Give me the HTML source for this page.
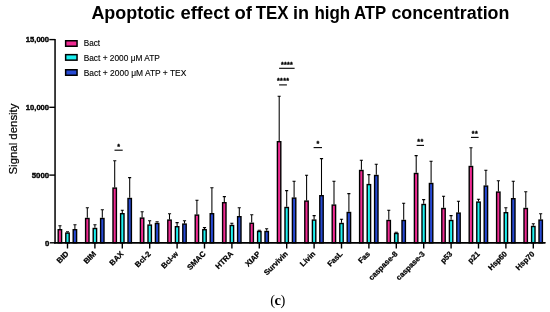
<!DOCTYPE html>
<html><head><meta charset="utf-8"><title>Apoptotic effect of TEX in high ATP concentration</title>
<style>html,body{margin:0;padding:0;background:#fff}body{width:550px;height:312px;overflow:hidden}svg{display:block}text{font-family:"Liberation Sans",sans-serif;fill:#000}.b{font-weight:bold}.s{font-family:"Liberation Serif",serif}</style></head><body>
<svg width="550" height="312" viewBox="0 0 550 312">
<rect width="550" height="312" fill="#fff"/>
<text class="b" y="19" font-size="17.6"><tspan x="91.4" textLength="83.6" lengthAdjust="spacingAndGlyphs">Apoptotic</tspan> <tspan x="180.4" textLength="49.2" lengthAdjust="spacingAndGlyphs">effect</tspan> <tspan x="234.4" textLength="17.4" lengthAdjust="spacingAndGlyphs">of</tspan> <tspan x="255.8" textLength="32.8" lengthAdjust="spacingAndGlyphs">TEX</tspan> <tspan x="293.0" textLength="16.0" lengthAdjust="spacingAndGlyphs">in</tspan> <tspan x="314.4" textLength="35.8" lengthAdjust="spacingAndGlyphs">high</tspan> <tspan x="354.0" textLength="32.0" lengthAdjust="spacingAndGlyphs">ATP</tspan> <tspan x="391.4" textLength="118.0" lengthAdjust="spacingAndGlyphs">concentration</tspan></text>
<text transform="translate(16.9,174.5) rotate(-90)" font-size="11" stroke="#000" stroke-width="0.2" textLength="71" lengthAdjust="spacingAndGlyphs">Signal density</text>
<g stroke="#000" stroke-width="1.5" fill="none">
<path d="M55.05 39.0V243.4"/>
<path d="M54.2 242.8H545.4"/>
</g>
<g stroke="#000" stroke-width="1.4" fill="none">
<path d="M49.3 39.6H55"/>
<path d="M49.3 107.3H55"/>
<path d="M49.3 175.1H55"/>
<path d="M49.8 242.8H55"/>
<path d="M67.5 242.8V248.5"/>
<path d="M94.9 242.8V248.5"/>
<path d="M122.3 242.8V248.5"/>
<path d="M149.7 242.8V248.5"/>
<path d="M177.1 242.8V248.5"/>
<path d="M204.5 242.8V248.5"/>
<path d="M231.9 242.8V248.5"/>
<path d="M259.3 242.8V248.5"/>
<path d="M286.7 242.8V248.5"/>
<path d="M314.1 242.8V248.5"/>
<path d="M341.5 242.8V248.5"/>
<path d="M368.9 242.8V248.5"/>
<path d="M396.3 242.8V248.5"/>
<path d="M423.7 242.8V248.5"/>
<path d="M451.1 242.8V248.5"/>
<path d="M478.5 242.8V248.5"/>
<path d="M505.9 242.8V248.5"/>
<path d="M533.3 242.8V248.5"/>
</g>
<text class="b" x="25.8" y="42.1" font-size="7.3" stroke="#000" stroke-width="0.35" textLength="23.3" lengthAdjust="spacingAndGlyphs">15,000</text>
<text class="b" x="25.8" y="109.8" font-size="7.3" stroke="#000" stroke-width="0.35" textLength="23.3" lengthAdjust="spacingAndGlyphs">10,000</text>
<text class="b" x="31.7" y="177.5" font-size="7.3" stroke="#000" stroke-width="0.35" textLength="17.4" lengthAdjust="spacingAndGlyphs">5000</text>
<text class="b" x="45.1" y="245.7" font-size="7.3" stroke="#000" stroke-width="0.35" textLength="4.3" lengthAdjust="spacingAndGlyphs">0</text>
<rect x="65.65" y="40.75" width="11.4" height="5.5" fill="#f02b93" stroke="#000" stroke-width="1.5"/>
<text x="83.7" y="46.4" font-size="8.8" stroke="#000" stroke-width="0.12" textLength="16.4" lengthAdjust="spacingAndGlyphs">Bact</text>
<rect x="65.65" y="54.65" width="11.4" height="5.5" fill="#1cf0f0" stroke="#000" stroke-width="1.5"/>
<text x="83.7" y="60.8" font-size="8.8" stroke="#000" stroke-width="0.12" textLength="76.1" lengthAdjust="spacingAndGlyphs">Bact + 2000 μM ATP</text>
<rect x="65.65" y="69.75" width="11.4" height="5.5" fill="#274ad4" stroke="#000" stroke-width="1.5"/>
<text x="83.7" y="75.9" font-size="8.8" stroke="#000" stroke-width="0.12" textLength="102.6" lengthAdjust="spacingAndGlyphs">Bact + 2000 μM ATP + TEX</text>
<g stroke="#000" stroke-width="1.4">
<path fill="none" stroke-width="1.05" d="M60.0 229.0V225.8M58.4 225.8H61.5"/>
<rect x="58.2" y="229.7" width="3.4" height="13.1" fill="#f02b93"/>
<path fill="none" stroke-width="1.05" d="M67.5 232.4V231.8M66.0 231.8H69.0"/>
<rect x="65.8" y="233.1" width="3.4" height="9.7" fill="#1cf0f0"/>
<path fill="none" stroke-width="1.05" d="M74.9 229.0V224.8M73.4 224.8H76.5"/>
<rect x="73.2" y="229.7" width="3.4" height="13.1" fill="#274ad4"/>
<path fill="none" stroke-width="1.05" d="M87.3 217.8V207.8M85.8 207.8H88.9"/>
<rect x="85.6" y="218.5" width="3.4" height="24.3" fill="#f02b93"/>
<path fill="none" stroke-width="1.05" d="M94.9 227.8V224.8M93.4 224.8H96.5"/>
<rect x="93.2" y="228.5" width="3.4" height="14.3" fill="#1cf0f0"/>
<path fill="none" stroke-width="1.05" d="M102.3 217.8V209.8M100.8 209.8H103.9"/>
<rect x="100.6" y="218.5" width="3.4" height="24.3" fill="#274ad4"/>
<path fill="none" stroke-width="1.05" d="M114.7 187.4V160.8M113.2 160.8H116.3"/>
<rect x="113.0" y="188.1" width="3.4" height="54.7" fill="#f02b93"/>
<path fill="none" stroke-width="1.05" d="M122.3 213.0V210.2M120.8 210.2H123.8"/>
<rect x="120.6" y="213.7" width="3.4" height="29.1" fill="#1cf0f0"/>
<path fill="none" stroke-width="1.05" d="M129.7 197.8V177.6M128.1 177.6H131.2"/>
<rect x="128.0" y="198.5" width="3.4" height="44.3" fill="#274ad4"/>
<path fill="none" stroke-width="1.05" d="M142.1 217.4V211.8M140.6 211.8H143.7"/>
<rect x="140.4" y="218.1" width="3.4" height="24.7" fill="#f02b93"/>
<path fill="none" stroke-width="1.05" d="M149.7 224.4V220.8M148.1 220.8H151.2"/>
<rect x="148.0" y="225.1" width="3.4" height="17.7" fill="#1cf0f0"/>
<path fill="none" stroke-width="1.05" d="M157.1 222.8V221.8M155.5 221.8H158.7"/>
<rect x="155.4" y="223.5" width="3.4" height="19.3" fill="#274ad4"/>
<path fill="none" stroke-width="1.05" d="M169.5 219.4V213.8M168.0 213.8H171.1"/>
<rect x="167.8" y="220.1" width="3.4" height="22.7" fill="#f02b93"/>
<path fill="none" stroke-width="1.05" d="M177.1 226.0V222.6M175.5 222.6H178.7"/>
<rect x="175.4" y="226.7" width="3.4" height="16.1" fill="#1cf0f0"/>
<path fill="none" stroke-width="1.05" d="M184.5 223.4V220.8M182.9 220.8H186.1"/>
<rect x="182.8" y="224.1" width="3.4" height="18.7" fill="#274ad4"/>
<path fill="none" stroke-width="1.05" d="M196.9 214.4V200.2M195.4 200.2H198.5"/>
<rect x="195.2" y="215.1" width="3.4" height="27.7" fill="#f02b93"/>
<path fill="none" stroke-width="1.05" d="M204.5 229.0V227.6M202.9 227.6H206.1"/>
<rect x="202.8" y="229.7" width="3.4" height="13.1" fill="#1cf0f0"/>
<path fill="none" stroke-width="1.05" d="M211.9 213.0V187.8M210.3 187.8H213.5"/>
<rect x="210.2" y="213.7" width="3.4" height="29.1" fill="#274ad4"/>
<path fill="none" stroke-width="1.05" d="M224.3 202.0V196.6M222.8 196.6H225.9"/>
<rect x="222.6" y="202.7" width="3.4" height="40.1" fill="#f02b93"/>
<path fill="none" stroke-width="1.05" d="M231.9 224.8V223.2M230.3 223.2H233.4"/>
<rect x="230.2" y="225.5" width="3.4" height="17.3" fill="#1cf0f0"/>
<path fill="none" stroke-width="1.05" d="M239.3 216.0V207.8M237.7 207.8H240.8"/>
<rect x="237.6" y="216.7" width="3.4" height="26.1" fill="#274ad4"/>
<path fill="none" stroke-width="1.05" d="M251.7 222.6V214.8M250.2 214.8H253.3"/>
<rect x="250.0" y="223.3" width="3.4" height="19.5" fill="#f02b93"/>
<path fill="none" stroke-width="1.05" d="M259.3 230.8V230.2M257.7 230.2H260.8"/>
<rect x="257.6" y="231.5" width="3.4" height="11.3" fill="#1cf0f0"/>
<path fill="none" stroke-width="1.05" d="M266.7 230.8V228.8M265.1 228.8H268.2"/>
<rect x="265.0" y="231.5" width="3.4" height="11.3" fill="#274ad4"/>
<path fill="none" stroke-width="1.05" d="M279.2 141.0V96.2M277.6 96.2H280.7"/>
<rect x="277.4" y="141.7" width="3.4" height="101.1" fill="#f02b93"/>
<path fill="none" stroke-width="1.05" d="M286.7 206.8V190.6M285.1 190.6H288.2"/>
<rect x="285.0" y="207.5" width="3.4" height="35.3" fill="#1cf0f0"/>
<path fill="none" stroke-width="1.05" d="M294.1 197.4V181.2M292.5 181.2H295.6"/>
<rect x="292.4" y="198.1" width="3.4" height="44.7" fill="#274ad4"/>
<path fill="none" stroke-width="1.05" d="M306.6 200.4V175.2M305.0 175.2H308.1"/>
<rect x="304.8" y="201.1" width="3.4" height="41.7" fill="#f02b93"/>
<path fill="none" stroke-width="1.05" d="M314.1 219.4V215.6M312.6 215.6H315.7"/>
<rect x="312.4" y="220.1" width="3.4" height="22.7" fill="#1cf0f0"/>
<path fill="none" stroke-width="1.05" d="M321.5 195.0V158.6M319.9 158.6H323.1"/>
<rect x="319.8" y="195.7" width="3.4" height="47.1" fill="#274ad4"/>
<path fill="none" stroke-width="1.05" d="M334.0 204.4V181.2M332.4 181.2H335.5"/>
<rect x="332.2" y="205.1" width="3.4" height="37.7" fill="#f02b93"/>
<path fill="none" stroke-width="1.05" d="M341.5 222.8V219.2M339.9 219.2H343.1"/>
<rect x="339.8" y="223.5" width="3.4" height="19.3" fill="#1cf0f0"/>
<path fill="none" stroke-width="1.05" d="M348.9 211.8V193.6M347.3 193.6H350.4"/>
<rect x="347.2" y="212.5" width="3.4" height="30.3" fill="#274ad4"/>
<path fill="none" stroke-width="1.05" d="M361.4 169.8V160.2M359.8 160.2H362.9"/>
<rect x="359.6" y="170.5" width="3.4" height="72.3" fill="#f02b93"/>
<path fill="none" stroke-width="1.05" d="M368.9 183.9V174.6M367.3 174.6H370.4"/>
<rect x="367.2" y="184.6" width="3.4" height="58.2" fill="#1cf0f0"/>
<path fill="none" stroke-width="1.05" d="M376.3 174.8V164.2M374.7 164.2H377.8"/>
<rect x="374.6" y="175.5" width="3.4" height="67.3" fill="#274ad4"/>
<path fill="none" stroke-width="1.05" d="M388.8 219.8V210.2M387.2 210.2H390.3"/>
<rect x="387.0" y="220.5" width="3.4" height="22.3" fill="#f02b93"/>
<path fill="none" stroke-width="1.05" d="M396.3 232.8V232.2M394.7 232.2H397.8"/>
<rect x="394.6" y="233.5" width="3.4" height="9.3" fill="#1cf0f0"/>
<path fill="none" stroke-width="1.05" d="M403.7 219.8V203.2M402.1 203.2H405.2"/>
<rect x="402.0" y="220.5" width="3.4" height="22.3" fill="#274ad4"/>
<path fill="none" stroke-width="1.05" d="M416.2 172.8V155.6M414.6 155.6H417.7"/>
<rect x="414.4" y="173.5" width="3.4" height="69.3" fill="#f02b93"/>
<path fill="none" stroke-width="1.05" d="M423.7 203.8V199.6M422.1 199.6H425.2"/>
<rect x="422.0" y="204.5" width="3.4" height="38.3" fill="#1cf0f0"/>
<path fill="none" stroke-width="1.05" d="M431.1 182.8V161.2M429.5 161.2H432.6"/>
<rect x="429.4" y="183.5" width="3.4" height="59.3" fill="#274ad4"/>
<path fill="none" stroke-width="1.05" d="M443.6 207.8V196.2M442.0 196.2H445.1"/>
<rect x="441.8" y="208.5" width="3.4" height="34.3" fill="#f02b93"/>
<path fill="none" stroke-width="1.05" d="M451.1 219.8V215.6M449.5 215.6H452.6"/>
<rect x="449.4" y="220.5" width="3.4" height="22.3" fill="#1cf0f0"/>
<path fill="none" stroke-width="1.05" d="M458.5 212.4V201.2M456.9 201.2H460.0"/>
<rect x="456.8" y="213.1" width="3.4" height="29.7" fill="#274ad4"/>
<path fill="none" stroke-width="1.05" d="M471.0 165.8V147.8M469.4 147.8H472.5"/>
<rect x="469.2" y="166.5" width="3.4" height="76.3" fill="#f02b93"/>
<path fill="none" stroke-width="1.05" d="M478.5 201.4V199.2M476.9 199.2H480.1"/>
<rect x="476.8" y="202.1" width="3.4" height="40.7" fill="#1cf0f0"/>
<path fill="none" stroke-width="1.05" d="M485.9 185.4V170.2M484.3 170.2H487.4"/>
<rect x="484.2" y="186.1" width="3.4" height="56.7" fill="#274ad4"/>
<path fill="none" stroke-width="1.05" d="M498.4 191.4V180.8M496.8 180.8H499.9"/>
<rect x="496.6" y="192.1" width="3.4" height="50.7" fill="#f02b93"/>
<path fill="none" stroke-width="1.05" d="M505.9 212.0V207.8M504.3 207.8H507.4"/>
<rect x="504.2" y="212.7" width="3.4" height="30.1" fill="#1cf0f0"/>
<path fill="none" stroke-width="1.05" d="M513.3 198.0V181.2M511.7 181.2H514.8"/>
<rect x="511.6" y="198.7" width="3.4" height="44.1" fill="#274ad4"/>
<path fill="none" stroke-width="1.05" d="M525.8 207.8V191.8M524.2 191.8H527.3"/>
<rect x="524.0" y="208.5" width="3.4" height="34.3" fill="#f02b93"/>
<path fill="none" stroke-width="1.05" d="M533.3 225.8V223.8M531.8 223.8H534.8"/>
<rect x="531.6" y="226.5" width="3.4" height="16.3" fill="#1cf0f0"/>
<path fill="none" stroke-width="1.05" d="M540.7 219.4V213.8M539.1 213.8H542.2"/>
<rect x="539.0" y="220.1" width="3.4" height="22.7" fill="#274ad4"/>
</g>
<path d="M54.2 242.8H545.4" stroke="#000" stroke-width="1.5"/>
<text class="b" transform="translate(69.2,254.4) rotate(-45)" text-anchor="end" font-size="7.7" stroke="#000" stroke-width="0.25">BID</text>
<text class="b" transform="translate(96.6,254.4) rotate(-45)" text-anchor="end" font-size="7.7" stroke="#000" stroke-width="0.25">BIM</text>
<text class="b" transform="translate(124.0,254.4) rotate(-45)" text-anchor="end" font-size="7.7" stroke="#000" stroke-width="0.25">BAX</text>
<text class="b" transform="translate(151.4,254.4) rotate(-45)" text-anchor="end" font-size="7.7" stroke="#000" stroke-width="0.25">Bcl-2</text>
<text class="b" transform="translate(178.8,254.4) rotate(-45)" text-anchor="end" font-size="7.7" stroke="#000" stroke-width="0.25">Bcl-w</text>
<text class="b" transform="translate(206.2,254.4) rotate(-45)" text-anchor="end" font-size="7.7" stroke="#000" stroke-width="0.25">SMAC</text>
<text class="b" transform="translate(233.6,254.4) rotate(-45)" text-anchor="end" font-size="7.7" stroke="#000" stroke-width="0.25">HTRA</text>
<text class="b" transform="translate(261.0,254.4) rotate(-45)" text-anchor="end" font-size="7.7" stroke="#000" stroke-width="0.25">XIAP</text>
<text class="b" transform="translate(288.4,254.4) rotate(-45)" text-anchor="end" font-size="7.7" stroke="#000" stroke-width="0.25">Survivin</text>
<text class="b" transform="translate(315.8,254.4) rotate(-45)" text-anchor="end" font-size="7.7" stroke="#000" stroke-width="0.25">Livin</text>
<text class="b" transform="translate(343.2,254.4) rotate(-45)" text-anchor="end" font-size="7.7" stroke="#000" stroke-width="0.25">FasL</text>
<text class="b" transform="translate(370.6,254.4) rotate(-45)" text-anchor="end" font-size="7.7" stroke="#000" stroke-width="0.25">Fas</text>
<text class="b" transform="translate(398.0,254.4) rotate(-45)" text-anchor="end" font-size="7.7" stroke="#000" stroke-width="0.25">caspase-8</text>
<text class="b" transform="translate(425.4,254.4) rotate(-45)" text-anchor="end" font-size="7.7" stroke="#000" stroke-width="0.25">caspase-3</text>
<text class="b" transform="translate(452.8,254.4) rotate(-45)" text-anchor="end" font-size="7.7" stroke="#000" stroke-width="0.25">p53</text>
<text class="b" transform="translate(480.2,254.4) rotate(-45)" text-anchor="end" font-size="7.7" stroke="#000" stroke-width="0.25">p21</text>
<text class="b" transform="translate(507.6,254.4) rotate(-45)" text-anchor="end" font-size="7.7" stroke="#000" stroke-width="0.25">Hsp60</text>
<text class="b" transform="translate(535.0,254.4) rotate(-45)" text-anchor="end" font-size="7.7" stroke="#000" stroke-width="0.25">Hsp70</text>
<path d="M114.5 150.2H122.7" stroke="#000" stroke-width="1.1"/>
<text class="b" x="118.6" y="148.5" text-anchor="middle" font-size="7.1" stroke="#000" stroke-width="0.35" textLength="3.0" lengthAdjust="spacing">*</text>
<path d="M279.1 84.9H286.9" stroke="#000" stroke-width="1.1"/>
<text class="b" x="283.0" y="83.2" text-anchor="middle" font-size="7.1" stroke="#000" stroke-width="0.35" textLength="11.9" lengthAdjust="spacing">****</text>
<path d="M279.1 68.3H294.6" stroke="#000" stroke-width="1.1"/>
<text class="b" x="286.9" y="66.6" text-anchor="middle" font-size="7.1" stroke="#000" stroke-width="0.35" textLength="11.9" lengthAdjust="spacing">****</text>
<path d="M313.6 147.6H322.0" stroke="#000" stroke-width="1.1"/>
<text class="b" x="317.8" y="145.9" text-anchor="middle" font-size="7.1" stroke="#000" stroke-width="0.35" textLength="3.0" lengthAdjust="spacing">*</text>
<path d="M416.6 145.4H424.0" stroke="#000" stroke-width="1.1"/>
<text class="b" x="420.3" y="143.7" text-anchor="middle" font-size="7.1" stroke="#000" stroke-width="0.35" textLength="6.0" lengthAdjust="spacing">**</text>
<path d="M471.0 137.4H478.6" stroke="#000" stroke-width="1.1"/>
<text class="b" x="474.8" y="135.7" text-anchor="middle" font-size="7.1" stroke="#000" stroke-width="0.35" textLength="6.0" lengthAdjust="spacing">**</text>
<text class="s" x="277.6" y="304.9" text-anchor="middle" font-size="14.5" letter-spacing="-0.4">(<tspan font-weight="bold">c</tspan>)</text>
</svg></body></html>
